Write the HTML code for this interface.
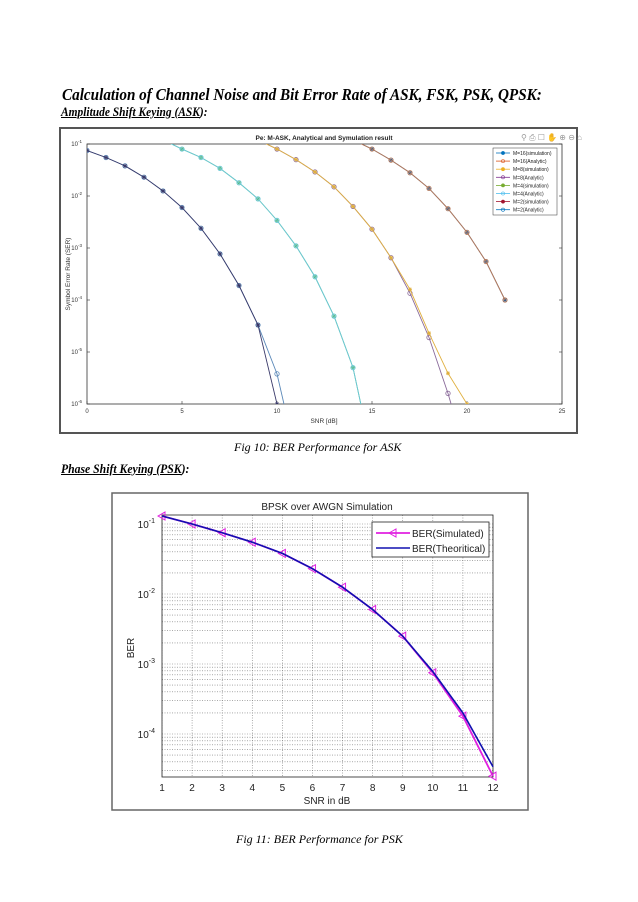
<!DOCTYPE html>
<html><head><meta charset="utf-8">
<style>
body{margin:0;background:#fff;width:638px;height:902px;position:relative;overflow:hidden;font-family:"Liberation Serif",serif;}
.t{position:absolute;white-space:nowrap;color:#000;transform-origin:left top;}
svg text{font-family:"Liberation Sans",sans-serif;}
</style></head><body>
<div class="t" style="left:62px;top:85px;font-size:16.5px;font-weight:bold;font-style:italic;transform:scaleX(0.92);">Calculation of Channel Noise and Bit Error Rate of ASK, FSK, PSK, QPSK:</div>
<div class="t" style="left:61px;top:104px;font-size:13px;font-weight:bold;font-style:italic;transform:scaleX(0.88);"><u>Amplitude Shift Keying (ASK</u>):</div>
<div class="t" style="left:234px;top:440px;font-size:12px;font-style:italic;">Fig 10: BER Performance for ASK</div>
<div class="t" style="left:61px;top:461px;font-size:13px;font-weight:bold;font-style:italic;transform:scaleX(0.9);"><u>Phase Shift Keying (PSK</u>):</div>
<div class="t" style="left:236px;top:832px;font-size:12px;font-style:italic;">Fig 11: BER Performance for PSK</div>

<svg id="s1" style="position:absolute;left:0;top:0" width="638" height="902">
<defs>
<clipPath id="c1"><rect x="87" y="144" width="475" height="260"/></clipPath>
<clipPath id="c2"><rect x="162" y="515" width="331" height="262"/></clipPath>
</defs>
<rect x="60" y="128" width="517" height="305" fill="#fff" stroke="#555" stroke-width="2"/>
<rect x="112" y="493" width="416" height="317" fill="#fff" stroke="#666" stroke-width="1.5"/>
<g id="g1"></g><g id="g2"></g>
</svg>
<script>
// ---- ASK chart data ----
const askX = [0,1,2,3,4,5,6,7,8,9,10,11,12,13,14,15,16,17,18,19,20,21,22];
const m2Sim = [0.075,0.055,0.038,0.023,0.0125,0.006,0.0024,0.00077,0.00019,3.3e-5,1e-6];
const m2Ana = [0.075,0.055,0.038,0.023,0.0125,0.006,0.0024,0.00077,0.00019,3.3e-5,3.8e-6,1e-7];
const m4X = [4,5,6,7,8,9,10,11,12,13,14,15];
const m4Vals = [0.12,0.08,0.055,0.034,0.018,0.0088,0.0034,0.0011,0.00028,4.9e-5,5e-6,1e-7];
const m8X = [9,10,11,12,13,14,15,16,17,18,19,20];
const m8Sim = [0.12,0.08,0.05,0.029,0.015,0.0063,0.0023,0.00065,1.6e-4,2.3e-5,3.9e-6,1e-6];
const m8Ana = [0.12,0.08,0.05,0.029,0.015,0.0063,0.0023,0.00065,1.35e-4,1.9e-5,1.6e-6,9e-8];
const m16X = [14,15,16,17,18,19,20,21,22];
const m16Vals = [0.12,0.08,0.049,0.028,0.014,0.0057,0.002,0.00055,1e-4];
const askXTicks = [0,5,10,15,20,25];
const askYTicks = [-1,-2,-3,-4,-5,-6];
const askLegend = ["M=16(simulation)","M=16(Analytic)","M=8(simulation)","M=8(Analytic)","M=4(simulation)","M=4(Analytic)","M=2(simulation)","M=2(Analytic)"];
// ---- PSK chart data ----
const pskX = [1,2,3,4,5,6,7,8,9,10,11,12];
const pskSim = [0.13,0.10,0.075,0.055,0.038,0.023,0.0125,0.006,0.0025,0.00075,0.00018,2.5e-5];
const pskTheo = [0.13,0.10,0.075,0.055,0.038,0.023,0.0125,0.006,0.0025,0.00078,0.0002,3.4e-5];
const pskXTicks = [1,2,3,4,5,6,7,8,9,10,11,12];
const pskYTicks = [-1,-2,-3,-4];

const NS="http://www.w3.org/2000/svg";
function mk(p,tag,a){const e=document.createElementNS(NS,tag);for(const k in a)e.setAttribute(k,a[k]);p.appendChild(e);return e;}

// ASK axes
const ax1=v=>87+(v-0)/25*475;
const ay1=v=>144+(-1-Math.log10(v))/5*260;
const g1=document.getElementById('g1');
const t1=mk(g1,'text',{x:324,y:140,'font-size':6.5,'font-weight':'bold','text-anchor':'middle',fill:'#222'});
t1.textContent='Pe: M-ASK, Analytical and Symulation result';


const tb=mk(g1,'text',{x:521,y:140,'font-size':8,fill:'#999'});
tb.textContent='⚲ ⎙ ☐ ✋ ⊕ ⊖ ⌂';


mk(g1,'rect',{x:87,y:144,width:475,height:260,fill:'#fff',stroke:'#333','stroke-width':0.8});
askXTicks.forEach(v=>{
  mk(g1,'line',{x1:ax1(v),x2:ax1(v),y1:404,y2:401,stroke:'#333','stroke-width':0.6});
  const t=mk(g1,'text',{x:ax1(v),y:413,'font-size':6,'text-anchor':'middle',fill:'#333'});t.textContent=v;
  
  
});
askYTicks.forEach(d=>{
  const y=ay1(Math.pow(10,d));
  mk(g1,'line',{x1:87,x2:90,y1:y,y2:y,stroke:'#333','stroke-width':0.6});
  mk(g1,'line',{x1:559,x2:562,y1:y,y2:y,stroke:'#333','stroke-width':0.6});
  const t=mk(g1,'text',{x:82,y:y+2,'font-size':6,'text-anchor':'end',fill:'#333'});
  t.innerHTML='10<tspan dy="-3" font-size="4.5">'+d+'</tspan>';
  
  
});
const xl=mk(g1,'text',{x:324,y:423,'font-size':6.5,'text-anchor':'middle',fill:'#333'});xl.textContent='SNR [dB]';


const yl=mk(g1,'text',{x:0,y:0,'font-size':6.5,'text-anchor':'middle',fill:'#333',transform:'translate(70,274) rotate(-90)'});yl.textContent='Symbol Error Rate (SER)';


const pl=mk(g1,'g',{'clip-path':'url(#c1)'});
function series(xs,ys,col,mark,name){
  const g=mk(pl,'g',{});
  
  
  const pts=ys.map((v,i)=>ax1(xs[i])+','+ay1(v)).join(' ');
  mk(g,'polyline',{points:pts,fill:'none',stroke:col,'stroke-width':0.9});
  ys.forEach((v,i)=>{
    const x=ax1(xs[i]),y=ay1(v);
    if(mark==='o'){const c=mk(g,'circle',{cx:x,cy:y,r:2.2,fill:'none',stroke:col,'stroke-width':0.8});}
    else{const c=mk(g,'path',{d:`M${x-2},${y}h4M${x},${y-2}v4M${x-1.5},${y-1.5}l3,3M${x-1.5},${y+1.5}l3,-3`,stroke:col,'stroke-width':0.8});}
  });
}
series(m16X,m16Vals,'#3c5f88','*','m16-sim-line');
series(m16X,m16Vals,'#b87a5a','o','m16-analytic-line');
series(m8X,m8Ana,'#8a6a9a','o','m8-analytic-line');
series(m8X,m8Sim,'#e0b040','*','m8-sim-line');
series(m4X,m4Vals,'#55b878','*','m4-sim-line');
series(m4X,m4Vals,'#6cc8d8','o','m4-analytic-line');
series(askX.slice(0,m2Ana.length),m2Ana,'#5a88b8','o','m2-analytic-line');
series(askX.slice(0,m2Sim.length),m2Sim,'#3a3a6a','*','m2-sim-line');
const lg=mk(g1,'g',{});


mk(lg,'rect',{x:493,y:148,width:64,height:67,fill:'#fff',stroke:'#333','stroke-width':0.5});
const lcols=['#0072BD','#D95319','#EDB120','#7E2F8E','#77AC30','#4DBEEE','#A2142F','#0072BD'];
askLegend.forEach((s,i)=>{
  const y=153+i*8.1;
  mk(lg,'line',{x1:496,x2:510,y1:y,y2:y,stroke:lcols[i],'stroke-width':0.8});
  mk(lg,'circle',{cx:503,cy:y,r:1.6,fill:i%2?'none':lcols[i],stroke:lcols[i],'stroke-width':0.6});
  const t=mk(lg,'text',{x:513,y:y+2,'font-size':5,fill:'#222'});t.textContent=s;
  
  
});

// PSK axes
const ax2=v=>162+(v-1)/11*331;
const ay2=v=>524+(-1-Math.log10(v))*70;
const g2=document.getElementById('g2');
const t2=mk(g2,'text',{x:327,y:510,'font-size':10,'text-anchor':'middle',fill:'#222'});t2.textContent='BPSK over AWGN Simulation';


mk(g2,'rect',{x:162,y:515,width:331,height:262,fill:'#fff'});
const grid=mk(g2,'g',{'clip-path':'url(#c2)'});
pskXTicks.forEach(v=>mk(grid,'line',{x1:ax2(v),x2:ax2(v),y1:515,y2:777,stroke:'#777','stroke-width':0.6,'stroke-dasharray':'1,1.5'}));
for(let d=-5;d<=-1;d++)for(let m=1;m<=9;m++){const y=ay2(m*Math.pow(10,d));
  mk(grid,'line',{x1:162,x2:493,y1:y,y2:y,stroke:'#777','stroke-width':0.6,'stroke-dasharray':'1,1.5'});}
mk(g2,'rect',{x:162,y:515,width:331,height:262,fill:'none',stroke:'#222','stroke-width':0.8});
pskXTicks.forEach(v=>{
  const t=mk(g2,'text',{x:ax2(v),y:791,'font-size':10,'text-anchor':'middle',fill:'#222'});t.textContent=v;
  
  
});
pskYTicks.forEach(d=>{
  const t=mk(g2,'text',{x:155,y:ay2(Math.pow(10,d))+4,'font-size':10,'text-anchor':'end',fill:'#222'});
  t.innerHTML='10<tspan dy="-5" font-size="7">'+d+'</tspan>';
  
  
});
const xl2=mk(g2,'text',{x:327,y:804,'font-size':10,'text-anchor':'middle',fill:'#222'});xl2.textContent='SNR in dB';


const yl2=mk(g2,'text',{x:0,y:0,'font-size':10,'text-anchor':'middle',fill:'#222',transform:'translate(134,648) rotate(-90)'});yl2.textContent='BER';


const pl2=mk(g2,'g',{});
const simG=mk(pl2,'g',{});


mk(simG,'polyline',{points:pskSim.map((v,i)=>ax2(pskX[i])+','+ay2(v)).join(' '),fill:'none',stroke:'#e020e0','stroke-width':1.8});
pskSim.forEach((v,i)=>{const x=ax2(pskX[i]),y=ay2(v);
  const p=mk(simG,'path',{d:`M${x-4},${y}L${x+3},${y-4}L${x+3},${y+4}Z`,fill:'none',stroke:'#e020e0','stroke-width':1});
  
  });
const thG=mk(pl2,'g',{});


mk(thG,'polyline',{points:pskTheo.map((v,i)=>ax2(pskX[i])+','+ay2(v)).join(' '),fill:'none',stroke:'#1010b0','stroke-width':1.6});
const lg2=mk(g2,'g',{});


mk(lg2,'rect',{x:372,y:522,width:117,height:35,fill:'#fff',stroke:'#222','stroke-width':0.8});
mk(lg2,'line',{x1:376,x2:410,y1:533,y2:533,stroke:'#e020e0','stroke-width':1.8});
mk(lg2,'path',{d:'M389,533L396,529L396,537Z',fill:'none',stroke:'#e020e0','stroke-width':1});
const la=mk(lg2,'text',{x:412,y:537,'font-size':10,fill:'#222'});la.textContent='BER(Simulated)';


mk(lg2,'line',{x1:376,x2:410,y1:548,y2:548,stroke:'#1010b0','stroke-width':1.6});
const lb=mk(lg2,'text',{x:412,y:552,'font-size':10,fill:'#222'});lb.textContent='BER(Theoritical)';


</script>
</body></html>
